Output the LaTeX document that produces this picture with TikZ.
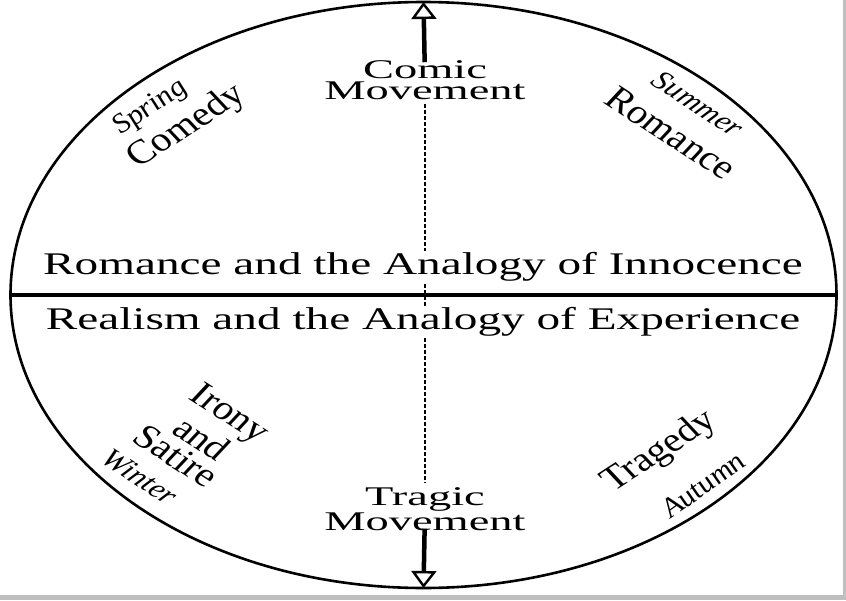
\documentclass[tikz,border=0pt]{standalone}
\usepackage{fontspec}
\setmainfont{Liberation Serif}
\usetikzlibrary{shapes.geometric, arrows.meta}
\tikzset{
    genre/.style={font=\fontsize{34}{36}\selectfont, inner sep=1pt, xscale=1.2},
    season/.style={font=\fontsize{27}{29}\selectfont\itshape, inner sep=1pt, xscale=1.2},
    movement/.style={font=\fontsize{27}{21}\selectfont, align=center, inner sep=4pt, fill=white, xscale=1.72},
    half/.style={font=\fontsize{31.5}{33}\selectfont, inner sep=2pt, fill=white, xscale=1.5},
    arrow/.style={line width=4.5pt, shorten <=-6pt, -{Triangle[open, length=17pt, width=25pt, line width=2.4pt]}}
}

\begin{document}
\begin{tikzpicture}[x=1pt, y=-1pt]
\useasboundingbox (0,0) rectangle (846,600);
\fill[gray!50] (0,595) rectangle (846,600);
\fill[gray!50] (843,0) rectangle (846,600);
\node[draw, ellipse, line width=2.6pt, minimum width=826pt, minimum height=586pt, inner sep=0pt, outer sep=0pt] (oval) at (423.5,295) {};
\node[movement] (comic) at (425,80) {Comic\\Movement};
\node[movement] (tragic) at (425,509) {Tragic\\Movement};
\draw[line width=2.2pt, dash pattern=on 4pt off 2pt] (comic) -- (tragic);
\node[half] (innocence) at (423,267) {Romance and the Analogy of Innocence};
\node[half] (experience) at (423,322) {Realism and the Analogy of Experience};
\draw[line width=3.2pt] (oval.west) -- (oval.east);
\draw[arrow] (comic) -- (oval.north);
\draw[arrow] (tragic) -- (oval.south);
% the four mythoi
\node[season, rotate=38] (spring) at (151,108) {Spring};
\node[genre, rotate=38] (comedy) at (187,127) {Comedy};
\node[season, rotate=-38] (summer) at (698,104) {Summer};
\node[genre, rotate=-38] (romance) at (671,133) {Romance};
\node[genre, rotate=-38] (irony) at (228,415) {Irony};
\node[genre, rotate=-38] (and) at (202,438) {and};
\node[genre, rotate=-38] (satire) at (176,456) {Satire};
\node[season, rotate=-38] (winter) at (140,477) {Winter};
\node[genre, rotate=38] (tragedy) at (660,452) {Tragedy};
\node[season, rotate=40] (autumn) at (703,485) {Autumn};
\end{tikzpicture}
\end{document}
